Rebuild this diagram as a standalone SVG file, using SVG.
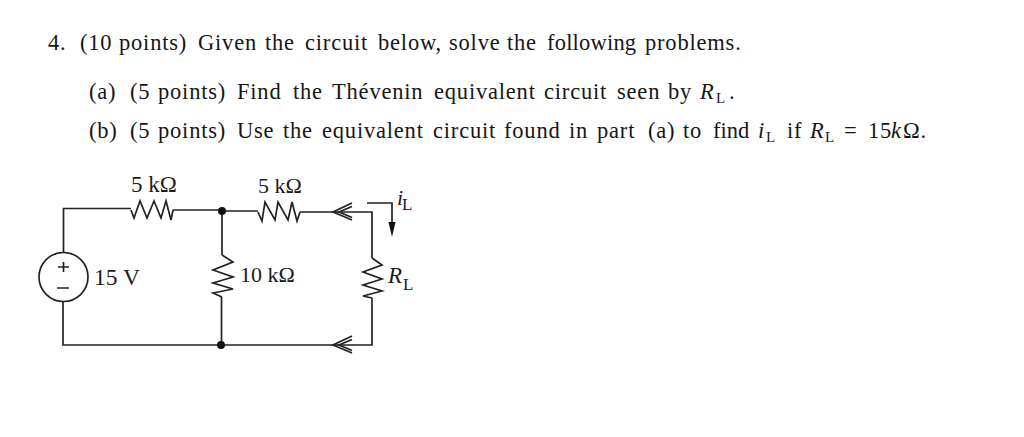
<svg xmlns="http://www.w3.org/2000/svg" width="1024" height="437" viewBox="0 0 1024 437">
<style>
.t{font-family:"Liberation Serif","DejaVu Serif",serif;fill:#161616;font-size:22.5px;letter-spacing:.8px}
.n{letter-spacing:.2px}
.l{letter-spacing:0}
.s{font-size:15px;letter-spacing:0}
.c{font-family:"Liberation Serif","DejaVu Serif",serif;fill:#1c1c1c;font-size:22px}
.b{font-size:17px}
.i{font-style:italic}
.w{fill:none;stroke:#222;stroke-width:1.7;stroke-linejoin:miter}
.d{fill:#111}
</style>
<rect width="1024" height="437" fill="#fff"/>
<g id="question-text">
<text class="t" y="50"><tspan x="48">4.</tspan> <tspan x="80">(10</tspan> <tspan x="119">points)</tspan> <tspan x="198">Given</tspan> <tspan x="265">the</tspan> <tspan x="305">circuit</tspan> <tspan x="378">below,</tspan> <tspan x="449">solve</tspan> <tspan x="507">the</tspan> <tspan x="547" class="n">following</tspan> <tspan x="645">problems.</tspan></text>
<text class="t" y="99"><tspan x="89">(a)</tspan> <tspan x="130">(5</tspan> <tspan x="158">points)</tspan> <tspan x="237">Find</tspan> <tspan x="293">the</tspan> <tspan x="332">Thévenin</tspan> <tspan x="434">equivalent</tspan> <tspan x="544">circuit</tspan> <tspan x="617">seen</tspan> <tspan x="668">by</tspan> <tspan x="700" class="i">R</tspan><tspan x="716" dy="4" class="s">L</tspan><tspan x="729" dy="-4">.</tspan></text>
<text class="t" y="138"><tspan x="89">(b)</tspan> <tspan x="130">(5</tspan> <tspan x="158">points)</tspan> <tspan x="237">Use</tspan> <tspan x="283">the</tspan> <tspan x="322">equivalent</tspan> <tspan x="433">circuit</tspan> <tspan x="504">found</tspan> <tspan x="569">in</tspan> <tspan x="597">part</tspan> <tspan x="648">(a)</tspan> <tspan x="683">to</tspan> <tspan x="713" class="l">find</tspan> <tspan x="758" class="i">i</tspan><tspan x="766" dy="4" class="s">L</tspan> <tspan x="787" dy="-4">if</tspan> <tspan x="810" class="i">R</tspan><tspan x="825" dy="4" class="s">L</tspan> <tspan x="844" dy="-4">=</tspan> <tspan x="868">15</tspan><tspan x="891" class="i">k</tspan><tspan x="903">Ω.</tspan></text>
</g>
<g id="connectors">
<path class="w" d="M63.500 253V208.500H131"/>
<path class="w" d="M173 210H222"/>
<path class="w" d="M222 211H258"/>
<path class="w" d="M300 212H372V258"/>
<path class="w" d="M222 211V255"/>
<path class="w" d="M221.500 297V345"/>
<path class="w" d="M63 302V345H372V298"/>
<path class="w" d="M352 203L333 212L352 220M352 206.500L339 212L352 217.500"/>
<path class="w" d="M352 336L333 345L352 353M352 339.500L339 345L352 350.500"/>
</g>
<g id="source">
<circle class="w" cx="63.500" cy="277" r="24.500"/>
<path class="w" d="M63.500 262V272M58 267H69M57 288H69"/>
<text class="c" x="94" y="285" style="font-size:23.500px">15 V</text>
</g>
<g id="r1">
<path class="w" d="M131 210L134 218L140 201L147 218L154 201L161 218L166 201L171 220L173 210"/>
<text class="c" x="131" y="192" style="font-size:23px">5 kΩ</text>
</g>
<g id="r2">
<path class="w" d="M258 212L262 221L265 202L275 220L278 202L288 220L292 202L297 221L300 212"/>
<text class="c" x="258" y="193">5 kΩ</text>
</g>
<g id="r3">
<path class="w" d="M222 255L233 262L213 270L233 277L213 283L233 289L213 293L222 297"/>
<text class="c" x="240" y="282">10 kΩ</text>
</g>
<g id="rl">
<path class="w" d="M372 258L382 265L363 272L382 279L363 285L382 291L363 296L372 298"/>
<text class="c i" x="388" y="283" style="font-size:23px">R</text>
<text class="c b" x="403" y="290">L</text>
</g>
<g id="current">
<path class="w" d="M367 203H392V228"/>
<path class="d" d="M388.500 222H395.500L392 237Z"/>
<text class="c i" x="397" y="205">i</text>
<text class="c b" x="402" y="210">L</text>
</g>
<g id="junctions">
<circle class="d" cx="222" cy="211" r="4"/>
<circle class="d" cx="221" cy="345" r="4"/>
</g>
</svg>
